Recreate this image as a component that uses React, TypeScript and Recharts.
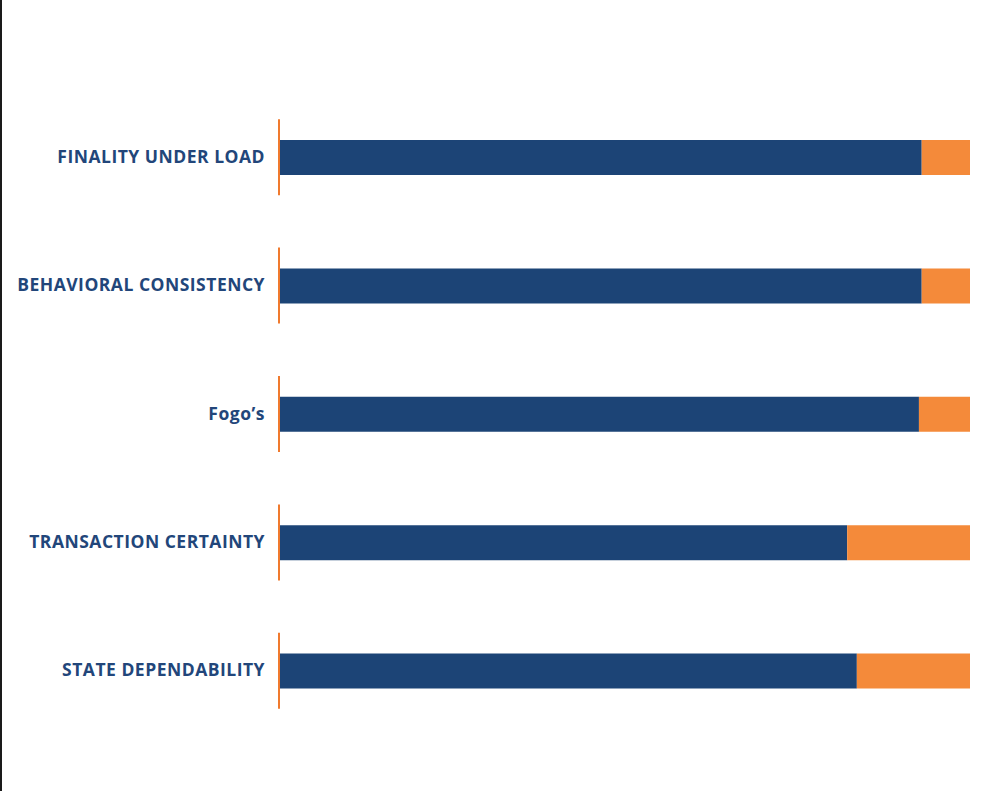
import React from "react";
import { BarChart, Bar, XAxis, YAxis } from "recharts";

const categories = [
  "FINALITY UNDER LOAD",
  "BEHAVIORAL CONSISTENCY",
  "Fogo\u2019s",
  "TRANSACTION CERTAINTY",
  "STATE DEPENDABILITY",
];
const scoreValues = [93, 93, 92.6, 82.2, 83.6];
const remainderValues = [7, 7, 7.4, 17.8, 16.4];

const data = categories.map((name, i) => ({
  name,
  score: scoreValues[i],
  rest: remainderValues[i],
}));

const BLUE = "#1c4476";
const ORANGE = "#f48a3a";
const TEXT = "#22467a";

const Tick = (props: any) => {
  const { x, y, payload } = props;
  return (
    <g>
      <line x1={x - 1} x2={x - 1} y1={y - 38} y2={y + 38} stroke="#f07a2e" strokeWidth={2} />
      <text
        x={x - 15}
        y={y}
        dy={5.5}
        textAnchor="end"
        fill={TEXT}
        fontFamily="'Open Sans', sans-serif"
        fontWeight={700}
        fontSize={17.5}
        letterSpacing={0.5}
      >
        {payload.value}
      </text>
    </g>
  );
};

export default function App() {
  return (
    <div
      style={{
        position: "fixed",
        left: 0,
        top: 0,
        width: 1001,
        height: 791,
        background: "#ffffff",
        boxSizing: "border-box",
        borderLeft: "2px solid #1a1a1a",
      }}
    >
      <div style={{ position: "absolute", left: -2, top: 0 }}>
        <BarChart
          width={1001}
          height={791}
          data={data}
          layout="vertical"
          margin={{ top: 93, right: 31, bottom: 56, left: 0 }}
          barSize={35}
        >
          <XAxis type="number" domain={[0, 100]} hide />
          <YAxis
            type="category"
            dataKey="name"
            width={280}
            axisLine={false}
            tickLine={false}
            tickSize={0}
            tickMargin={0}
            tick={<Tick />}
            interval={0}
          />
          <Bar dataKey="score" stackId="a" fill={BLUE} isAnimationActive={false} />
          <Bar dataKey="rest" stackId="a" fill={ORANGE} isAnimationActive={false} />
        </BarChart>
      </div>
    </div>
  );
}
